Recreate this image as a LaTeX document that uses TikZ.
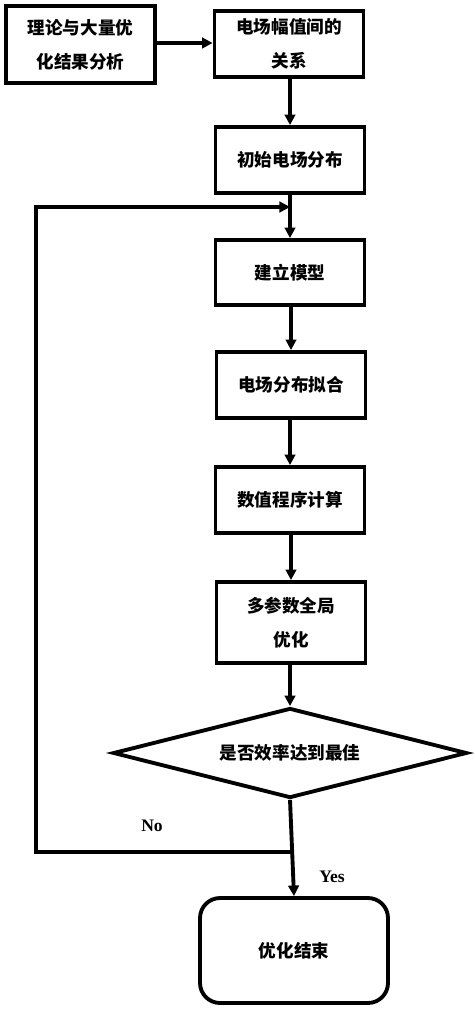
\documentclass[tikz,border=0pt]{standalone}
\usepackage{fontspec}
\setmainfont{Liberation Serif}
\newfontfamily\cjk{Noto Sans CJK SC}
\usetikzlibrary{shapes.geometric,arrows.meta}

\begin{document}
\begin{tikzpicture}[x=0.02cm,y=-0.02cm,
  box/.style={draw,line width=2.2pt,minimum width=2.98cm,minimum height=1.32cm,
    inner sep=0pt,align=center,font=\cjk\bfseries\fontsize{10}{19.5}\selectfont},
  flow/.style={line width=2.2pt,-{Triangle[length=6pt,width=6pt]}},
  tag/.style={font=\bfseries\fontsize{10}{12}\selectfont}]
\useasboundingbox (0,0) rectangle (474,1010);

\node [box,minimum height=1.54cm] (theory) at (80.5,44.5) {理论与大量优\\化结果分析};
\node [box] (relate) at (289,44) {电场幅值间的\\关系};
\node [box] (init) at (290,160) {初始电场分布};
\node [box,minimum height=1.30cm] (model) at (290,272.5) {建立模型};
\node [box] (fit) at (291,385) {电场分布拟合};
\node [box] (calc) at (290,500) {数值程序计算};
\node [box,minimum height=1.62cm] (optim) at (291,622.5) {多参数全局\\优化};
\node [box,shape=diamond,aspect=3.9,minimum width=7.08cm,minimum height=1.8cm] (best) at (290,753) {是否效率达到最佳};
\node [box,rounded corners=0.4cm,minimum width=3.76cm,minimum height=2.1cm] (done) at (294,950.5) {优化结束};

\coordinate (nob) at (291,852);
\coordinate (nol) at (36,852);
\coordinate (not) at (36,207);
\coordinate (join) at (290,207);

\draw [flow] (theory.east |- 0,43) -- (relate.west |- 0,43);
\draw [flow] (relate.south -| init) -- (init.north);
\draw [flow] (init.south) -- (model.north);
\draw [flow] (model.south -| fit) -- (fit.north);
\draw [flow] (fit.south -| calc) -- (calc.north);
\draw [flow] (calc.south -| optim) -- (optim.north);
\draw [flow] (optim.south -| best) -- (best.north);
\draw [flow] (best.south) -- (done.north);
\draw [flow,rounded corners=0pt] (nob) -- (nol) -- (not) -- (join);

\node [tag] (no) at (152,826) {No};
\node [tag] (yes) at (332,877) {Yes};
\end{tikzpicture}
\end{document}
